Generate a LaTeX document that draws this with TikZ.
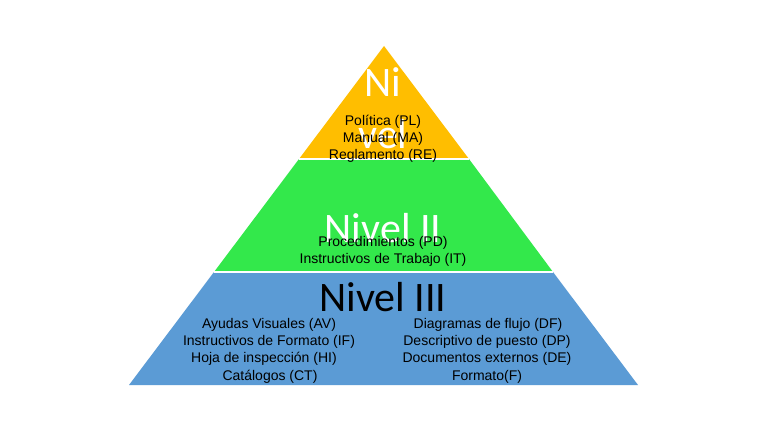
\documentclass[tikz,border=0pt]{standalone}
\usepackage{fontspec}
\setmainfont{Liberation Sans}
\newfontfamily\titlefont{Carlito}
\definecolor{lorange}{HTML}{FFBE00}
\definecolor{lgreen}{HTML}{33E84B}
\definecolor{lblue}{HTML}{5B9BD5}
\begin{document}
\begin{tikzpicture}[x=1pt,y=-1pt,
  small/.style={font=\fontsize{14}{14}\selectfont,inner sep=0pt,anchor=center},
  big/.style={font=\titlefont\fontsize{42}{42}\selectfont,inner sep=0pt,anchor=center}]
\useasboundingbox[fill=white] (0,0) rectangle (768,433);
\coordinate (apex) at (384,46);
\fill[lorange] (apex) -- (299,159) -- (469,159) -- cycle;
\fill[lgreen] (299,159) -- (469,159) -- (553,272) -- (214,272) -- cycle;
\fill[lblue] (214,272) -- (553,272) -- (638,385) -- (129,385) -- cycle;
\draw[white,line width=1.2pt] (299,159) -- (469,159) (214,272) -- (553,272);
\node[big,white] (n1a) at (383,82) {Ni};
\node[big,white] (n1b) at (383,134) {vel};
\node[small] (pl) at (383,122) {Política (PL)};
\node[small] (ma) at (383,139) {Manual (MA)};
\node[small] (re) at (383,156) {Reglamento (RE)};
\node[big,white] (n2) at (383,228) {Nivel II};
\node[small] (pd) at (383,243) {Procedimientos (PD)};
\node[small] (it) at (383,260) {Instructivos de Trabajo (IT)};
\node[big] (n3) at (383,297) {Nivel III};
\node[small] (av) at (269,325) {Ayudas Visuales (AV)};
\node[small] (if) at (269,342) {Instructivos de Formato (IF)};
\node[small] (hi) at (264,359) {Hoja de inspección (HI)};
\node[small] (ct) at (270,377) {Catálogos (CT)};
\node[small] (df) at (488,325) {Diagramas de flujo (DF)};
\node[small] (dp) at (487,342) {Descriptivo de puesto (DP)};
\node[small] (de) at (487,359) {Documentos externos (DE)};
\node[small] (ff) at (487,377) {Formato(F)};
\end{tikzpicture}
\end{document}
